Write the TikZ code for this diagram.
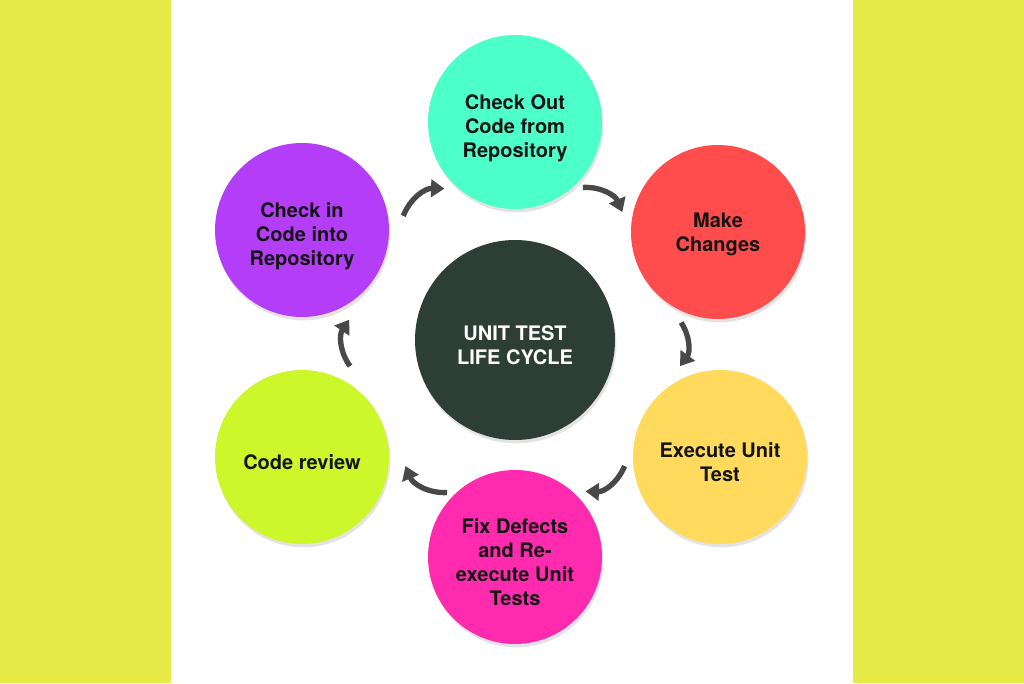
\documentclass[tikz,border=0pt]{standalone}
\usepackage{fontspec}
\setmainfont{TeX Gyre Heros}
\usetikzlibrary{arrows.meta,shadows,calc}

\definecolor{bgyellow}{RGB}{230,234,70}
\definecolor{mint}{RGB}{77,255,201}
\definecolor{coral}{RGB}{255,76,76}
\definecolor{sand}{RGB}{255,218,92}
\definecolor{hotpink}{RGB}{255,43,174}
\definecolor{limegreen}{RGB}{204,247,43}
\definecolor{purplish}{RGB}{180,62,247}
\definecolor{hubgreen}{RGB}{45,62,55}
\definecolor{arrowgray}{RGB}{72,72,72}

% spazio in cima alla prima riga (abbassa il testo nel cerchio)
\newcommand{\topgap}{\rule{0pt}{18pt}}

\begin{document}
\begin{tikzpicture}[x=0.75pt, y=0.75pt,
  stage/.style={circle, minimum size=130.5pt, inner sep=0pt, align=center,
    font=\bfseries\fontsize{15}{18}\selectfont, text=black!92,
    text depth=0pt,
    drop shadow={opacity=0.22, shadow xshift=1pt, shadow yshift=-2.5pt}},
  hubnode/.style={stage, minimum size=150pt, fill=hubgreen, text=white},
  cyclearrow/.style={draw=arrowgray, line width=4pt,
    -{Triangle[width=13pt, length=10pt]}}]

\useasboundingbox (0,0) rectangle (1024,683);

% Sfondo
\fill[bgyellow] (0,0) rectangle (1024,683);
\fill[white] (171,0) rectangle (853,683);

% Fasi del ciclo
\node[stage, fill=mint] (checkout) at (515,561) {\topgap Check Out\\Code from\\Repository};
\node[stage, fill=coral] (changes) at (718,451) {Make\\Changes};
\node[stage, fill=sand] (execute) at (720,226) {\topgap Execute Unit\\Test};
\node[stage, fill=hotpink] (fix) at (515,126) {\topgap Fix Defects\\and Re-\\execute Unit\\Tests};
\node[stage, fill=limegreen] (review) at (302,226) {\topgap Code review};
\node[stage, fill=purplish] (checkin) at (302,453) {\topgap Check in\\Code into\\Repository};

% Centro
\node[hubnode] (hub) at (515,343) {\topgap UNIT TEST\\LIFE CYCLE};

% Frecce curve tra le fasi (senso orario)
\foreach \s/\e in {132/115, 66/50, 6/-9, -49/-65, -114/-131, 189/173}
  \draw[cyclearrow] ($(hub)+(\s:167)$) to[bend left=35] ($(hub)+(\e:167)$);

\end{tikzpicture}
\end{document}
